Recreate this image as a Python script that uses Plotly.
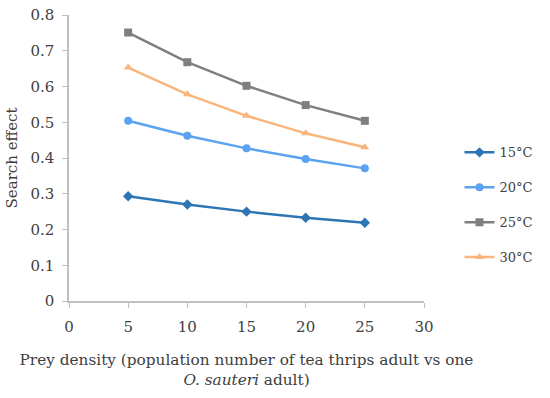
import plotly.graph_objects as go

x_vals = [5, 10, 15, 20, 25]
s15 = [0.293, 0.270, 0.250, 0.233, 0.219]
s20 = [0.504, 0.462, 0.427, 0.397, 0.371]
s25 = [0.751, 0.668, 0.602, 0.548, 0.504]
s30 = [0.653, 0.578, 0.518, 0.469, 0.430]
names = ["15°C", "20°C", "25°C", "30°C"]
series = [s15, s20, s25, s30]
colors = ["#2E75B6", "#5BA3F0", "#7F7F7F", "#F8B57C"]
symbols = ["diamond", "circle", "square", "triangle-up"]

fig = go.Figure()
for i, (n, s, c, sym) in enumerate(zip(names, series, colors, symbols)):
    fig.add_trace(go.Scatter(
        x=x_vals, y=s, name=n, mode="lines+markers",
        line=dict(color=c, width=2.5),
        marker=dict(symbol=sym, size=8, color=c),
        legendgroup=str(i),
    ))

ff = "DejaVu Serif"
tf = dict(family=ff, size=15, color="#404040")
fig.update_layout(
    width=550, height=398,
    margin=dict(l=69, r=122, t=15, b=97),
    paper_bgcolor="white", plot_bgcolor="white",
    font=tf,
    showlegend=True,
    legend=dict(x=1.10, y=0.336, xanchor="left", yanchor="middle",
                tracegroupgap=15, font=dict(family=ff, size=13, color="#404040"),
                itemwidth=30),
    xaxis=dict(range=[0, 30], tickvals=[0, 5, 10, 15, 20, 25, 30],
               showgrid=False, zeroline=False, showline=True,
               linecolor="#BFBFBF", linewidth=1.5, ticks="outside",
               tickcolor="#BFBFBF", ticklen=5, tickfont=tf, automargin=False,
               ticklabelstandoff=6,
               title=dict(text="Prey density (population number of tea thrips adult vs one<br><i>O. sauteri</i> adult)",
                          font=dict(family=ff, size=15.3, color="#404040"), standoff=20)),
    yaxis=dict(range=[0, 0.8], tickvals=[0, 0.1, 0.2, 0.3, 0.4, 0.5, 0.6, 0.7, 0.8],
               ticktext=["0", "0.1", "0.2", "0.3", "0.4", "0.5", "0.6", "0.7", "0.8"],
               showgrid=False, zeroline=False, showline=True,
               linecolor="#BFBFBF", linewidth=1.5, ticks="outside",
               tickcolor="#BFBFBF", ticklen=5, tickfont=tf, automargin=False,
               ticklabelstandoff=5,
               title=dict(text="Search effect", font=tf, standoff=9)),
)
fig.write_html("out.html", config={"displayModeBar": False},
               post_script="document.body.style.margin='0';")
